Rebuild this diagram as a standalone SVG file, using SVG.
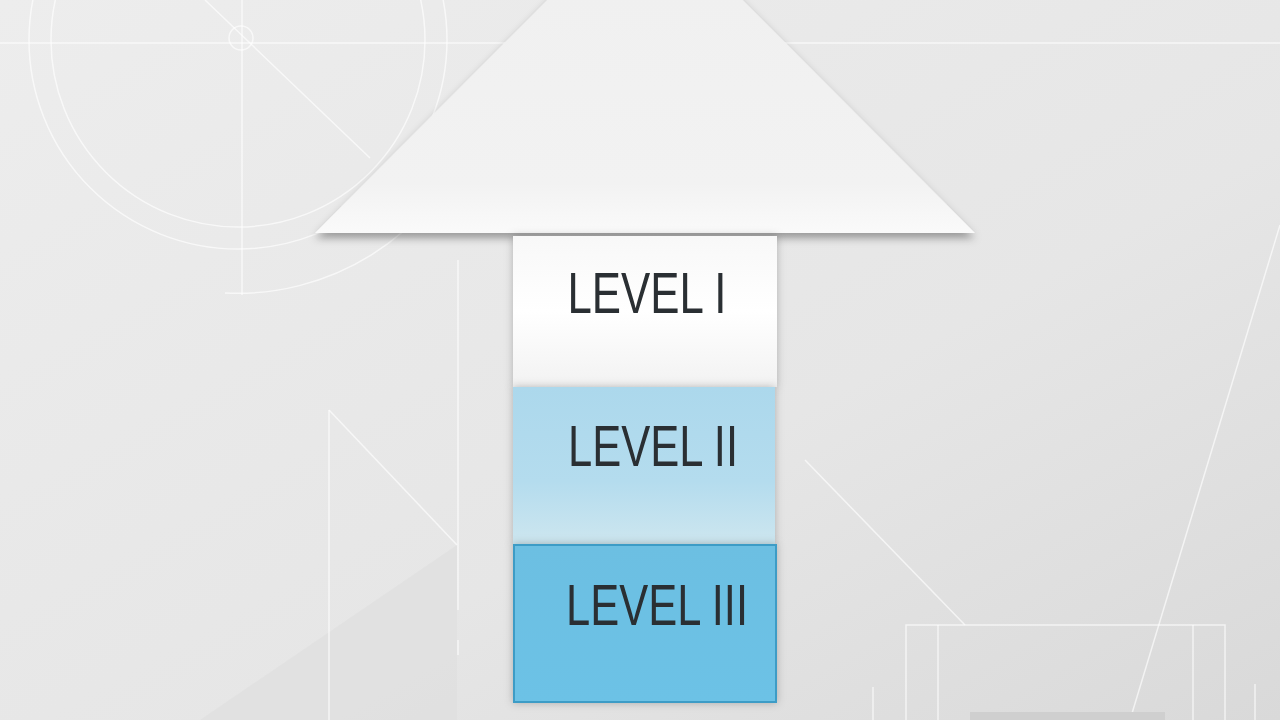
<svg xmlns="http://www.w3.org/2000/svg" width="1280" height="720" viewBox="0 0 1280 720">
<defs>
<linearGradient id="bg" x1="0" y1="0" x2="1" y2="1">
<stop offset="0" stop-color="#ededed"/>
<stop offset="0.6" stop-color="#e6e6e6"/>
<stop offset="1" stop-color="#d9d9d9"/>
</linearGradient>
<linearGradient id="head" x1="0" y1="0" x2="0" y2="1">
<stop offset="0" stop-color="#efefef"/>
<stop offset="0.85" stop-color="#f2f2f2"/>
<stop offset="1" stop-color="#fafafa"/>
</linearGradient>
<linearGradient id="g1" x1="0" y1="0" x2="0" y2="1">
<stop offset="0" stop-color="#f8f8f8"/>
<stop offset="0.5" stop-color="#ffffff"/>
<stop offset="1" stop-color="#f2f2f2"/>
</linearGradient>
<linearGradient id="g2" x1="0" y1="0" x2="0" y2="1">
<stop offset="0" stop-color="#acd8ec"/>
<stop offset="0.6" stop-color="#b4dcee"/>
<stop offset="1" stop-color="#cde6ef"/>
</linearGradient>
<linearGradient id="g3" x1="0" y1="0" x2="0" y2="1">
<stop offset="0" stop-color="#6cbfe2"/>
<stop offset="1" stop-color="#6cc2e6"/>
</linearGradient>
<filter id="sh" x="-10%" y="-10%" width="120%" height="130%">
<feDropShadow dx="0" dy="5" stdDeviation="4" flood-color="#000" flood-opacity="0.35"/>
</filter>
<filter id="sh2" x="-10%" y="-10%" width="120%" height="120%">
<feDropShadow dx="0" dy="0" stdDeviation="4" flood-color="#000" flood-opacity="0.25"/>
</filter>
</defs>
<style>
.ln{stroke:#ffffff;stroke-width:1.5;fill:none;opacity:0.65}
.lbl{font-family:"Liberation Sans","DejaVu Sans",sans-serif;font-size:58px;fill:#2a2f33}
</style>
<rect width="1280" height="720" fill="url(#bg)"/>
<polygon points="457,545 200,720 457,720" fill="#dedede" opacity="0.6"/>
<g id="background-lines">
<line class="ln" x1="0" y1="43" x2="1280" y2="43"/>
<line class="ln" x1="242" y1="0" x2="242" y2="295"/>
<circle class="ln" cx="241" cy="38" r="12"/>
<line class="ln" x1="205" y1="0" x2="370" y2="158"/>
<circle class="ln" cx="238" cy="40" r="209"/>
<circle class="ln" cx="238" cy="40" r="187"/>
<path class="ln" d="M225,293 A253,253 0 0 0 470,140"/>
<line class="ln" x1="329" y1="410" x2="329" y2="720"/>
<line class="ln" x1="329" y1="410" x2="457" y2="545"/>
<line class="ln" x1="458" y1="260" x2="458" y2="610"/>
<line class="ln" x1="458" y1="640" x2="458" y2="655"/>
<line class="ln" x1="805" y1="460" x2="965" y2="625"/>
<line class="ln" x1="1280" y1="225" x2="1130" y2="720"/>
<rect class="ln" x="906" y="625" width="319" height="110"/>
<line class="ln" x1="938" y1="625" x2="938" y2="720"/>
<line class="ln" x1="1193" y1="625" x2="1193" y2="720"/>
<line class="ln" x1="873" y1="687" x2="873" y2="720"/>
<line class="ln" x1="1255" y1="684" x2="1255" y2="720"/>
<rect x="970" y="712" width="195" height="12" fill="#cfcfcf"/>
</g>
<g id="arrow-head">
<polygon points="645,-98 975,233 315,233" fill="url(#head)" filter="url(#sh)"/>
</g>
<g id="level-1">
<rect x="513" y="236" width="264" height="151" fill="url(#g1)" filter="url(#sh2)"/>
<text class="lbl" x="647" y="313" text-anchor="middle" textLength="159" lengthAdjust="spacingAndGlyphs">LEVEL I</text>
</g>
<g id="level-2">
<rect x="513" y="387" width="262" height="157" fill="url(#g2)" filter="url(#sh2)"/>
<text class="lbl" x="653" y="466" text-anchor="middle" textLength="170" lengthAdjust="spacingAndGlyphs">LEVEL II</text>
</g>
<g id="level-3">
<rect x="514" y="545" width="262" height="157" fill="url(#g3)" stroke="#3d9cc6" stroke-width="2" filter="url(#sh2)"/>
<text class="lbl" x="657" y="625" text-anchor="middle" textLength="182" lengthAdjust="spacingAndGlyphs">LEVEL III</text>
</g>
<g id="connectors"></g>
</svg>
